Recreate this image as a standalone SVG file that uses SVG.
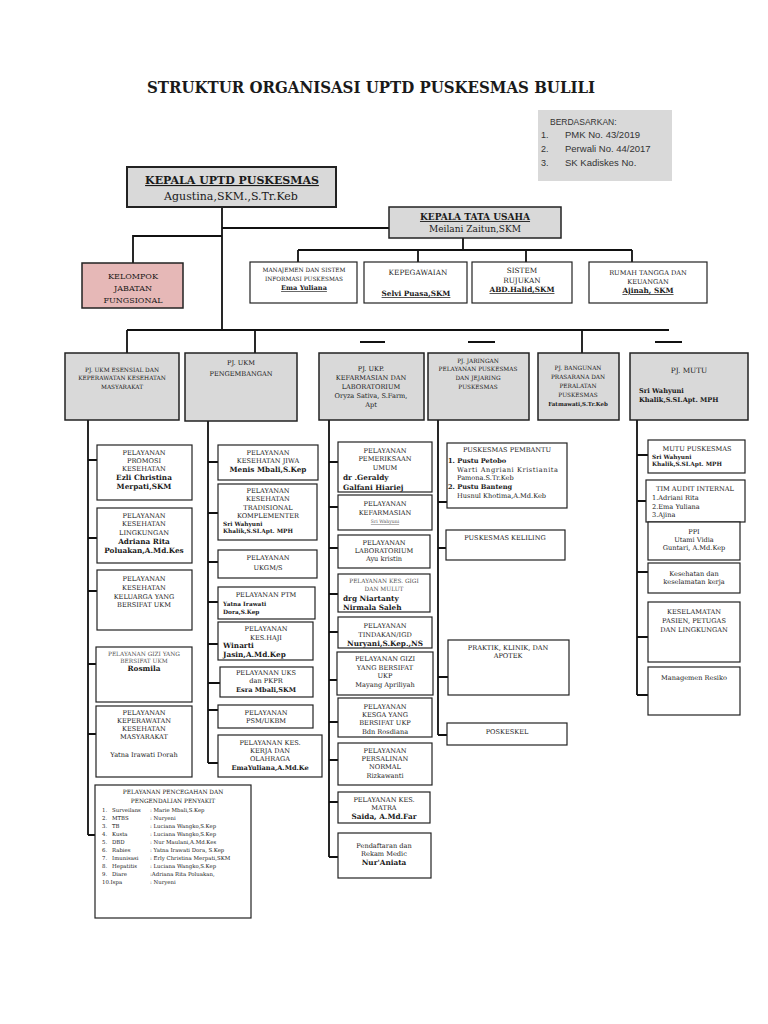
<svg xmlns="http://www.w3.org/2000/svg" width="768" height="1024" viewBox="0 0 768 1024">
<style>
text{font-family:"DejaVu Serif","Liberation Serif",serif;fill:#1a1a1a;text-anchor:middle}
.l{text-anchor:start}
.f7{font-size:7.3px}.f6{font-size:6.6px}.f5{font-size:5.8px}
.b{font-weight:bold}.u{text-decoration:underline}.g{fill:#555}
.bx{fill:#fff;stroke:#222;stroke-width:1.2}
.pj{fill:#d9d9d9;stroke:#222;stroke-width:1.5}
.ln{stroke:#111;stroke-width:1.8;fill:none}
.sans{font-family:"Liberation Sans","Open Sans",sans-serif;fill:#333}
</style>
<rect width="768" height="1024" fill="#fff"/>
<text x="371" y="93" font-size="17" class="b" textLength="448" lengthAdjust="spacingAndGlyphs">STRUKTUR ORGANISASI UPTD PUSKESMAS BULILI</text>

<g id="berdasarkan">
<rect x="538" y="110" width="134" height="71" fill="#d9d9d9"/>
<text class="sans l" x="550" y="125" font-size="8.5">BERDASARKAN:</text>
<text class="sans l" x="541" y="138" font-size="9">1.</text><text class="sans l" x="565" y="138" font-size="9.5">PMK No. 43/2019</text>
<text class="sans l" x="541" y="152" font-size="9">2.</text><text class="sans l" x="565" y="152" font-size="9.5">Perwali No. 44/2017</text>
<text class="sans l" x="541" y="166" font-size="9">3.</text><text class="sans l" x="565" y="166" font-size="9.5">SK Kadiskes No.</text>
</g>

<g id="connectors">
<path class="ln" d="M222 207V330M222 228H389M222 236H133V263M463 238V250M298 250H632M298 250V262M418 250V262M526 250V262M632 250V262"/>
<path class="ln" d="M127 330H669M127 330V353M255 330V353M582 330V353"/>
<path class="ln" d="M360 342H385M468 342H495M655 342H682"/>
<path class="ln" d="M88 420V835M88 460H97M88 538H97M88 591H97M88 664H97M88 734H97M88 835H95"/>
<path class="ln" d="M208 420V763M208 462H218M208 513H218M208 562H218M208 602H218M208 644H218M208 683H220M208 710H218M208 763H218"/>
<path class="ln" d="M329 420V857M329 462H338M329 507H338M329 548H338M329 594H338M329 632H338M329 680H338M329 722H338M329 760H338M329 802H338M329 857H338"/>
<path class="ln" d="M438 420V735M438 502H447M438 548H446M438 677H448M438 735H447"/>
<path class="ln" d="M637 420V695M637 455H648M637 501H646M637 572H648M637 637H648M637 695H648"/>
</g>

<g id="kepala">
<rect x="127" y="167" width="209" height="40" fill="#d9d9d9" stroke="#222" stroke-width="2"/>
<text x="232" y="184" font-size="11" class="b u">KEPALA UPTD PUSKESMAS</text>
<text x="231" y="200" font-size="11">Agustina,SKM.,S.Tr.Keb</text>
</g>

<g id="tata-usaha">
<rect x="389" y="207" width="172" height="31" fill="#d9d9d9" stroke="#222" stroke-width="1.5"/>
<text x="475" y="220" font-size="9" class="b u">KEPALA TATA USAHA</text>
<text x="475" y="232" font-size="9">Meilani Zaitun,SKM</text>
</g>

<g id="kelompok">
<rect x="82" y="263" width="101" height="45" fill="#e6b8b7" stroke="#222" stroke-width="1.5"/>
<text x="133" y="279" font-size="8">KELOMPOK</text>
<text x="133" y="291" font-size="8">JABATAN</text>
<text x="133" y="303" font-size="8">FUNGSIONAL</text>
</g>

<g id="manajemen">
<rect class="bx" x="250" y="262" width="107" height="41"/>
<text x="304" y="272" class="f5">MANAJEMEN DAN SISTEM</text>
<text x="304" y="281" class="f5">INFORMASI PUSKESMAS</text>
<text x="304" y="290" class="f6 b u">Ema Yuliana</text>
</g>
<g id="kepegawaian">
<rect class="bx" x="364" y="262" width="103" height="41"/>
<text x="418" y="275" class="f7">KEPEGAWAIAN</text>
<text x="416" y="296" class="f7 b u">Selvi Puasa,SKM</text>
</g>
<g id="rujukan">
<rect class="bx" x="472" y="262" width="100" height="41"/>
<text x="522" y="273" class="f7">SISTEM</text>
<text x="522" y="283" class="f7">RUJUKAN</text>
<text x="522" y="292" class="f7 b u">ABD.Halid,SKM</text>
</g>
<g id="rumah-tangga">
<rect class="bx" x="589" y="262" width="118" height="41"/>
<text x="648" y="275" class="f6">RUMAH TANGGA DAN</text>
<text x="648" y="284" class="f6">KEUANGAN</text>
<text x="648" y="293" class="f7 b u">Ajinah, SKM</text>
</g>

<g id="pj-ukm-esensial">
<rect class="pj" x="65" y="353" width="114" height="67"/>
<text x="122" y="372" class="f5">PJ. UKM ESENSIAL DAN</text>
<text x="122" y="380" class="f5">KEPERAWATAN KESEHATAN</text>
<text x="122" y="389" class="f5">MASYARAKAT</text>
</g>
<g id="pj-ukm-pengembangan">
<rect class="pj" x="185" y="353" width="112" height="68"/>
<text x="241" y="365" class="f6">PJ. UKM</text>
<text x="241" y="376" class="f6">PENGEMBANGAN</text>
</g>
<g id="pj-ukp">
<rect class="pj" x="319" y="353" width="105" height="67"/>
<text x="371" y="371" class="f6">PJ. UKP.</text>
<text x="371" y="380" class="f6">KEFARMASIAN DAN</text>
<text x="371" y="389" class="f6">LABORATORIUM</text>
<text x="371" y="398" class="f6">Oryza Sativa, S.Farm,</text>
<text x="371" y="407" class="f6">Apt</text>
</g>
<g id="pj-jaringan">
<rect class="pj" x="428" y="353" width="101" height="67"/>
<text x="478" y="363" class="f5">PJ. JARINGAN</text>
<text x="478" y="371" class="f5">PELAYANAN PUSKESMAS</text>
<text x="478" y="380" class="f5">DAN JEJARING</text>
<text x="478" y="389" class="f5">PUSKESMAS</text>
</g>
<g id="pj-bangunan">
<rect class="pj" x="538" y="353" width="81" height="67"/>
<text x="578" y="370" class="f5">PJ. BANGUNAN</text>
<text x="578" y="379" class="f5">PRASARANA DAN</text>
<text x="578" y="388" class="f5">PERALATAN</text>
<text x="578" y="397" class="f5">PUSKESMAS</text>
<text x="578" y="406" font-size="5.5" class="b">Fatmawati,S.Tr.Keb</text>
</g>
<g id="pj-mutu">
<rect class="pj" x="630" y="353" width="118" height="67"/>
<text x="689" y="373" class="f7">PJ. MUTU</text>
<text x="639" y="393" class="f6 b l">Sri Wahyuni</text>
<text x="639" y="402" class="f6 b l">Khalik,S.SI.Apt. MPH</text>
</g>

<!-- Column 1 -->
<g id="promosi">
<rect class="bx" x="97" y="445" width="95" height="55"/>
<text x="144" y="455" class="f6">PELAYANAN</text>
<text x="144" y="463" class="f6">PROMOSI</text>
<text x="144" y="471" class="f6">KESEHATAN</text>
<text x="144" y="480" class="f7 b">Ezli Christina</text>
<text x="144" y="489" class="f7 b">Merpati,SKM</text>
</g>
<g id="kesling">
<rect class="bx" x="97" y="508" width="95" height="55"/>
<text x="144" y="518" class="f6">PELAYANAN</text>
<text x="144" y="526" class="f6">KESEHATAN</text>
<text x="144" y="535" class="f6">LINGKUNGAN</text>
<text x="144" y="544" class="f7 b">Adriana Rita</text>
<text x="144" y="553" class="f7 b">Poluakan,A.Md.Kes</text>
</g>
<g id="keluarga">
<rect class="bx" x="97" y="570" width="95" height="60"/>
<text x="144" y="581" class="f6">PELAYANAN</text>
<text x="144" y="590" class="f6">KESEHATAN</text>
<text x="144" y="599" class="f6">KELUARGA YANG</text>
<text x="144" y="607" class="f6">BERSIFAT UKM</text>
</g>
<g id="gizi-ukm">
<rect class="bx" x="96" y="647" width="96" height="55"/>
<text x="144" y="656" class="f5 g">PELAYANAN GIZI YANG</text>
<text x="144" y="663" class="f5 g">BERSIFAT UKM</text>
<text x="144" y="671" class="f7 b">Rosmila</text>
</g>
<g id="keperawatan">
<rect class="bx" x="96" y="706" width="96" height="71"/>
<text x="144" y="715" class="f6">PELAYANAN</text>
<text x="144" y="723" class="f6">KEPERAWATAN</text>
<text x="144" y="731" class="f6">KESEHATAN</text>
<text x="144" y="739" class="f6">MASYARAKAT</text>
<text x="144" y="757" class="f6">Yatna Irawati Dorah</text>
</g>
<g id="pencegahan">
<rect class="bx" x="95" y="785" width="156" height="133"/>
<text x="173" y="794" class="f5">PELAYANAN PENCEGAHAN DAN</text>
<text x="173" y="803" class="f5">PENGENDALIAN PENYAKIT</text>
<g font-size="5.4">
<text class="l" x="102" y="812">1.</text><text class="l" x="112" y="812">Surveilans</text><text class="l" x="150" y="812">: Marie Mbali,S.Kep</text>
<text class="l" x="102" y="820">2.</text><text class="l" x="112" y="820">MTBS</text><text class="l" x="150" y="820">: Nuryeni</text>
<text class="l" x="102" y="828">3.</text><text class="l" x="112" y="828">TB</text><text class="l" x="150" y="828">: Luciana Wangko,S.Kep</text>
<text class="l" x="102" y="836">4.</text><text class="l" x="112" y="836">Kusta</text><text class="l" x="150" y="836">: Luciana Wangko,S.Kep</text>
<text class="l" x="102" y="844">5.</text><text class="l" x="112" y="844">DBD</text><text class="l" x="150" y="844">: Nur Maulani,A.Md.Kes</text>
<text class="l" x="102" y="852">6.</text><text class="l" x="112" y="852">Rabies</text><text class="l" x="150" y="852">: Yatna Irawati Dora, S.Kep</text>
<text class="l" x="102" y="860">7.</text><text class="l" x="112" y="860">Imunisasi</text><text class="l" x="150" y="860">: Erly Christina Merpati,SKM</text>
<text class="l" x="102" y="868">8.</text><text class="l" x="112" y="868">Hepatitis</text><text class="l" x="150" y="868">: Luciana Wangko,S.Kep</text>
<text class="l" x="102" y="876">9.</text><text class="l" x="112" y="876">Diare</text><text class="l" x="150" y="876">:Adriana Rita Poluakan,</text>
<text class="l" x="102" y="884">10.Ispa</text><text class="l" x="150" y="884">: Nuryeni</text>
</g>
</g>

<!-- Column 2 -->
<g id="jiwa">
<rect class="bx" x="218" y="445" width="100" height="35"/>
<text x="268" y="455" class="f6">PELAYANAN</text>
<text x="268" y="463" class="f6">KESEHATAN JIWA</text>
<text x="268" y="472" class="f7 b">Menis Mbali,S.Kep</text>
</g>
<g id="tradisional">
<rect class="bx" x="218" y="484" width="99" height="56"/>
<text x="268" y="493" class="f6">PELAYANAN</text>
<text x="268" y="501" class="f6">KESEHATAN</text>
<text x="268" y="510" class="f6">TRADISIONAL</text>
<text x="268" y="518" class="f6">KOMPLEMENTER</text>
<text x="223" y="526" class="f5 b l">Sri Wahyuni</text>
<text x="223" y="533" class="f5 b l">Khalik,S.SI.Apt. MPH</text>
</g>
<g id="ukgm">
<rect class="bx" x="218" y="550" width="99" height="28"/>
<text x="268" y="560" class="f6">PELAYANAN</text>
<text x="268" y="570" class="f6">UKGM/S</text>
</g>
<g id="ptm">
<rect class="bx" x="218" y="587" width="97" height="32"/>
<text x="266" y="597" class="f6">PELAYANAN PTM</text>
<text x="223" y="606" class="f5 b l">Yatna Irawati</text>
<text x="223" y="614" class="f5 b l">Dora,S.Kep</text>
</g>
<g id="haji">
<rect class="bx" x="218" y="622" width="95" height="38"/>
<text x="266" y="631" class="f6">PELAYANAN</text>
<text x="266" y="640" class="f6">KES.HAJI</text>
<text x="223" y="648" class="f7 b l">Winarti</text>
<text x="223" y="657" class="f7 b l">Jasin,A.Md.Kep</text>
</g>
<g id="uks">
<rect class="bx" x="220" y="667" width="93" height="30"/>
<text x="266" y="675" class="f6">PELAYANAN UKS</text>
<text x="266" y="683" class="f6">dan PKPR</text>
<text x="266" y="692" class="f6 b">Esra Mbali,SKM</text>
</g>
<g id="psm">
<rect class="bx" x="218" y="705" width="95" height="23"/>
<text x="266" y="715" class="f6">PELAYANAN</text>
<text x="266" y="723" class="f6">PSM/UKBM</text>
</g>
<g id="kerja">
<rect class="bx" x="218" y="735" width="104" height="42"/>
<text x="270" y="745" class="f6">PELAYANAN KES.</text>
<text x="270" y="753" class="f6">KERJA DAN</text>
<text x="270" y="761" class="f6">OLAHRAGA</text>
<text x="270" y="770" class="f6 b">EmaYuliana,A.Md.Ke</text>
</g>

<!-- Column 3 -->
<g id="umum">
<rect class="bx" x="338" y="442" width="94" height="50"/>
<text x="385" y="453" class="f6">PELAYANAN</text>
<text x="385" y="461" class="f6">PEMERIKSAAN</text>
<text x="385" y="470" class="f6">UMUM</text>
<text x="343" y="480" class="f7 b l">dr .Geraldy</text>
<text x="343" y="490" class="f7 b l">Galfani Hiariej</text>
</g>
<g id="kefarmasian">
<rect class="bx" x="338" y="495" width="94" height="35"/>
<text x="385" y="506" class="f6">PELAYANAN</text>
<text x="385" y="515" class="f6">KEFARMASIAN</text>
<text x="385" y="523" font-size="4.6" class="g u">Sri Wahyuni</text>
</g>
<g id="lab">
<rect class="bx" x="338" y="535" width="92" height="33"/>
<text x="384" y="545" class="f6">PELAYANAN</text>
<text x="384" y="553" class="f6">LABORATORIUM</text>
<text x="384" y="561" class="f6">Ayu kristin</text>
</g>
<g id="gigi">
<rect class="bx" x="338" y="574" width="92" height="38"/>
<text x="384" y="583" class="f5 g">PELAYANAN KES. GIGI</text>
<text x="384" y="591" class="f5 g">DAN MULUT</text>
<text x="343" y="601" class="f7 b l">drg Niartanty</text>
<text x="343" y="610" class="f7 b l">Nirmala Saleh</text>
</g>
<g id="tindakan">
<rect class="bx" x="338" y="617" width="94" height="31"/>
<text x="385" y="628" class="f6">PELAYANAN</text>
<text x="385" y="637" class="f6">TINDAKAN/IGD</text>
<text x="385" y="646" class="f7 b">Nuryani,S.Kep.,NS</text>
</g>
<g id="gizi-ukp">
<rect class="bx" x="337" y="652" width="96" height="43"/>
<text x="385" y="661" class="f6">PELAYANAN GIZI</text>
<text x="385" y="670" class="f6">YANG BERSIFAT</text>
<text x="385" y="678" class="f6">UKP</text>
<text x="385" y="687" class="f6">Mayang Apriliyah</text>
</g>
<g id="kesga">
<rect class="bx" x="338" y="698" width="94" height="39"/>
<text x="385" y="709" class="f6">PELAYANAN</text>
<text x="385" y="717" class="f6">KESGA YANG</text>
<text x="385" y="725" class="f6">BERSIFAT UKP</text>
<text x="385" y="734" class="f6">Bdn Rosdiana</text>
</g>
<g id="persalinan">
<rect class="bx" x="338" y="743" width="94" height="42"/>
<text x="385" y="753" class="f6">PELAYANAN</text>
<text x="385" y="761" class="f6">PERSALINAN</text>
<text x="385" y="769" class="f6">NORMAL</text>
<text x="385" y="778" class="f6">Rizkawanti</text>
</g>
<g id="matra">
<rect class="bx" x="338" y="792" width="92" height="31"/>
<text x="384" y="802" class="f6">PELAYANAN KES.</text>
<text x="384" y="810" class="f6">MATRA</text>
<text x="384" y="819" class="f7 b">Saida, A.Md.Far</text>
</g>
<g id="pendaftaran">
<rect class="bx" x="338" y="833" width="93" height="45"/>
<text x="384" y="848" class="f6">Pendaftaran dan</text>
<text x="384" y="856" class="f6">Rekam Medic</text>
<text x="384" y="865" class="f7 b">Nur'Aniata</text>
</g>

<!-- Column 4 -->
<g id="pustu">
<rect class="bx" x="447" y="443" width="120" height="65"/>
<text x="507" y="452" class="f6">PUSKESMAS PEMBANTU</text>
<text x="448" y="463" class="f6 b l">1. Pustu Petobo</text>
<text x="457" y="472" class="f6 l" textLength="101" lengthAdjust="spacing">Warti Angriani Kristianita</text>
<text x="457" y="480" class="f6 l">Pamona.S.Tr.Keb</text>
<text x="448" y="489" class="f6 b l">2. Pustu Banteng</text>
<text x="457" y="498" class="f6 l">Husnul Khotima,A.Md.Keb</text>
</g>
<g id="pusling">
<rect class="bx" x="446" y="530" width="119" height="30"/>
<text x="505" y="540" class="f6">PUSKESMAS KELILING</text>
</g>
<g id="praktik">
<rect class="bx" x="448" y="640" width="121" height="55"/>
<text x="508" y="650" class="f6">PRAKTIK, KLINIK, DAN</text>
<text x="508" y="658" class="f6">APOTEK</text>
</g>
<g id="poskeskel">
<rect class="bx" x="447" y="723" width="120" height="22"/>
<text x="507" y="734" class="f6">POSKESKEL</text>
</g>

<!-- Column 6 -->
<g id="mutu-puskesmas">
<rect class="bx" x="648" y="440" width="97" height="33"/>
<text x="697" y="451" class="f6">MUTU PUSKESMAS</text>
<text x="652" y="459" class="f5 b l">Sri Wahyuni</text>
<text x="652" y="466" class="f5 b l">Khalik,S.SI.Apt. MPH</text>
</g>
<g id="audit">
<rect class="bx" x="646" y="480" width="99" height="42"/>
<text x="695" y="491" class="f6">TIM AUDIT INTERNAL</text>
<text x="652" y="500" class="f6 l">1.Adriani Rita</text>
<text x="652" y="509" class="f6 l">2.Ema Yuliana</text>
<text x="652" y="517" class="f6 l">3.Ajina</text>
</g>
<g id="ppi">
<rect class="bx" x="648" y="522" width="92" height="38"/>
<text x="694" y="534" class="f6">PPI</text>
<text x="694" y="542" class="f6">Utami Vidia</text>
<text x="694" y="550" class="f6">Guntari, A.Md.Kep</text>
</g>
<g id="k3">
<rect class="bx" x="648" y="563" width="92" height="30"/>
<text x="694" y="576" class="f6">Kesehatan dan</text>
<text x="694" y="584" class="f6">keselamatan kerja</text>
</g>
<g id="keselamatan">
<rect class="bx" x="648" y="602" width="92" height="60"/>
<text x="694" y="614" class="f6">KESELAMATAN</text>
<text x="694" y="623" class="f6">PASIEN, PETUGAS</text>
<text x="694" y="632" class="f6">DAN LINGKUNGAN</text>
</g>
<g id="resiko">
<rect class="bx" x="648" y="667" width="92" height="48"/>
<text x="694" y="680" class="f6">Managemen Resiko</text>
</g>
</svg>
